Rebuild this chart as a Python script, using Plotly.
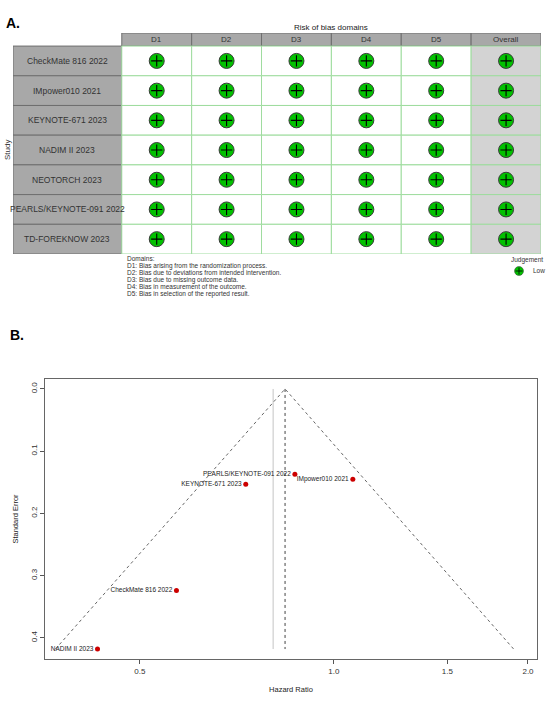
import plotly.graph_objects as go

# ---- panel A: risk of bias table ----
studies = [
    "CheckMate 816 2022",
    "IMpower010 2021",
    "KEYNOTE-671 2023",
    "NADIM II 2023",
    "NEOTORCH 2023",
    "PEARLS/KEYNOTE-091 2022",
    "TD-FOREKNOW 2023",
]
domains = ["D1", "D2", "D3", "D4", "D5", "Overall"]
judgements = [
    ["Low", "Low", "Low", "Low", "Low", "Low"],
    ["Low", "Low", "Low", "Low", "Low", "Low"],
    ["Low", "Low", "Low", "Low", "Low", "Low"],
    ["Low", "Low", "Low", "Low", "Low", "Low"],
    ["Low", "Low", "Low", "Low", "Low", "Low"],
    ["Low", "Low", "Low", "Low", "Low", "Low"],
    ["Low", "Low", "Low", "Low", "Low", "Low"],
]
domain_notes = [
    "Domains:",
    "D1: Bias arising from the randomization process.",
    "D2: Bias due to deviations from intended intervention.",
    "D3: Bias due to missing outcome data.",
    "D4: Bias in measurement of the outcome.",
    "D5: Bias in selection of the reported result.",
]
judgement_levels = ["Low"]
judgement_colors = {"Low": "#02C100"}

# ---- panel B: funnel plot ----
funnel_studies = [
    "NADIM II 2023",
    "CheckMate 816 2022",
    "KEYNOTE-671 2023",
    "PEARLS/KEYNOTE-091 2022",
    "IMpower010 2021",
]
funnel_hr = [0.43, 0.57, 0.73, 0.87, 1.07]
funnel_se = [0.418, 0.324, 0.153, 0.137, 0.145]
pooled_hr = 0.84
random_hr = 0.805
funnel_edge_hr = [0.37, 0.84, 1.90]
funnel_edge_se = [0.418, 0.0, 0.418]
x_ticks = [0.5, 1.0, 1.5, 2.0]
y_ticks = [0.0, 0.1, 0.2, 0.3, 0.4]

W, H = 550, 702
FONT = "Liberation Sans, Arial, sans-serif"


def px(x):
    return x / W


def py(y):
    return 1 - y / H


STUDY_W = 1.557   # study column width in domain-column units
HEAD_H = 0.44     # header height in row units

fig = go.Figure()
shapes = []

# study label cells
for r, s in enumerate(studies):
    shapes.append(dict(type="rect", xref="x2", yref="y2", x0=-STUDY_W, x1=0, y0=r, y1=r + 1,
                       fillcolor="#a8a8a8", line=dict(color="#6f6f6f", width=1), layer="below"))
# header cells
for c, d in enumerate(domains):
    shapes.append(dict(type="rect", xref="x2", yref="y2", x0=c, x1=c + 1, y0=-HEAD_H, y1=0,
                       fillcolor="#a8a8a8", line=dict(color="#6f6f6f", width=1), layer="below"))
# body cells
for r in range(len(studies)):
    for c, d in enumerate(domains):
        fill = "#d3d3d3" if d == "Overall" else "white"
        shapes.append(dict(type="rect", xref="x2", yref="y2", x0=c, x1=c + 1, y0=r, y1=r + 1,
                           fillcolor=fill, line=dict(color="#9edc9e", width=1), layer="below"))

xs, ys, cols = [], [], []
for r, row in enumerate(judgements):
    for c, j in enumerate(row):
        xs.append(c + 0.5)
        ys.append(r + 0.5)
        cols.append(judgement_colors[j])

fig.add_trace(go.Scatter(
    x=xs, y=ys, xaxis="x2", yaxis="y2", mode="markers", showlegend=False, hoverinfo="skip",
    marker=dict(size=15, color=cols, line=dict(color="#3a3a3a", width=1)),
))
fig.add_trace(go.Scatter(
    x=xs, y=ys, xaxis="x2", yaxis="y2", mode="markers", showlegend=False, hoverinfo="skip",
    marker=dict(size=8, symbol="cross-thin", line=dict(color="black", width=1.1)),
))

# judgement key: its own tiny category subplot
fig.add_trace(go.Scatter(
    x=judgement_levels, y=judgement_levels, xaxis="x3", yaxis="y3", mode="markers",
    showlegend=False, hoverinfo="skip", cliponaxis=False,
    marker=dict(size=9, color=[judgement_colors[j] for j in judgement_levels],
                line=dict(color="#3a3a3a", width=0.5)),
))
fig.add_trace(go.Scatter(
    x=judgement_levels, y=judgement_levels, xaxis="x3", yaxis="y3", mode="markers",
    showlegend=False, hoverinfo="skip", cliponaxis=False,
    marker=dict(size=5, symbol="cross-thin", line=dict(color="black", width=0.8)),
))

annotations = []
for r, s in enumerate(studies):
    annotations.append(dict(x=-STUDY_W / 2, y=r + 0.5, xref="x2", yref="y2", text=s,
                            showarrow=False, font=dict(size=8.5, color="#333")))
for c, d in enumerate(domains):
    annotations.append(dict(x=c + 0.5, y=-HEAD_H / 2, xref="x2", yref="y2", text=d,
                            showarrow=False, font=dict(size=8, color="#333")))
annotations.append(dict(x=len(domains) / 2, y=-HEAD_H, xref="x2", yref="y2",
                        text="Risk of bias domains", showarrow=False, yanchor="bottom",
                        yshift=-1, font=dict(size=8, color="#222")))
annotations.append(dict(x=px(7), y=len(studies) / 2, xref="paper", yref="y2", text="Study",
                        textangle=-90, showarrow=False, xanchor="center",
                        font=dict(size=8, color="#333")))
for i, line in enumerate(domain_notes):
    annotations.append(dict(x=px(125), y=py(259 + 7 * i), xref="paper", yref="paper",
                            text=line, showarrow=False, xanchor="left", yanchor="middle",
                            font=dict(size=6.5, color="#333")))
annotations.append(dict(x=px(527), y=py(260), xref="paper", yref="paper", text="Judgement",
                        showarrow=False, xanchor="center", yanchor="middle",
                        font=dict(size=6.5, color="#333")))
for k, j in enumerate(judgement_levels):
    annotations.append(dict(x=k, y=k, xref="x3", yref="y3", text=j, showarrow=False,
                            xanchor="left", xshift=12, font=dict(size=6.5, color="#333")))
annotations.append(dict(x=px(4), y=py(13), xref="paper", yref="paper", text="<b>A.</b>",
                        showarrow=False, xanchor="left", font=dict(size=14, color="black")))
annotations.append(dict(x=px(8), y=py(335), xref="paper", yref="paper", text="<b>B.</b>",
                        showarrow=False, xanchor="left", font=dict(size=14, color="black")))

# ---- funnel traces ----
fig.add_trace(go.Scatter(
    x=[random_hr, random_hr], y=[0, max(funnel_se)], mode="lines", showlegend=False,
    line=dict(color="#c4c4c4", width=1), hoverinfo="skip",
))
fig.add_trace(go.Scatter(
    x=[pooled_hr, pooled_hr], y=[0, max(funnel_se)], mode="lines", showlegend=False,
    line=dict(color="#444", width=1, dash="dot"), hoverinfo="skip",
))
fig.add_trace(go.Scatter(
    x=funnel_edge_hr, y=funnel_edge_se, mode="lines", showlegend=False,
    line=dict(color="#666", width=1, dash="dot"), hoverinfo="skip",
))
fig.add_trace(go.Scatter(
    x=funnel_hr, y=funnel_se, mode="markers+text", text=funnel_studies,
    textposition="middle left", showlegend=False, cliponaxis=False,
    textfont=dict(size=6.5, color="#222"),
    marker=dict(size=5, color="#cc0000"),
))

fig.update_layout(
    width=W, height=H, autosize=False, showlegend=False,
    margin=dict(l=0, r=0, t=0, b=0),
    paper_bgcolor="white", plot_bgcolor="white",
    font=dict(family=FONT, color="#222"),
    shapes=shapes,
    annotations=annotations,
    xaxis=dict(
        domain=[px(45), px(537)], anchor="y", type="log",
        range=[-0.448, 0.315],
        tickvals=x_ticks, ticktext=[f"{v:.1f}" for v in x_ticks],
        ticks="outside", ticklen=4, tickcolor="#555", tickfont=dict(size=8, color="#333"),
        showline=True, mirror=True, linecolor="#666", linewidth=1,
        showgrid=False, zeroline=False,
        title=dict(text="Hazard Ratio", font=dict(size=7.5, color="#222"), standoff=12),
    ),
    yaxis=dict(
        domain=[py(659), py(379)], anchor="x",
        range=[0.434, -0.016],
        tickvals=y_ticks, ticktext=[f"{v:.1f}" for v in y_ticks], tickangle=-90,
        ticks="outside", ticklen=4, tickcolor="#555", tickfont=dict(size=8, color="#333"),
        showline=True, mirror=True, linecolor="#666", linewidth=1,
        showgrid=False, zeroline=False,
        title=dict(text="Standard Error", font=dict(size=7.5, color="#222"), standoff=10),
    ),
    xaxis2=dict(domain=[px(13), px(541)], anchor="y2", range=[-STUDY_W, len(domains)],
                visible=False, fixedrange=True),
    yaxis2=dict(domain=[py(254), py(33)], anchor="x2", range=[len(studies), -HEAD_H],
                visible=False, fixedrange=True),
    xaxis3=dict(domain=[px(510), px(528)], anchor="y3", type="category",
                range=[-0.5, 0.5], visible=False, fixedrange=True),
    yaxis3=dict(domain=[py(280), py(262)], anchor="x3", type="category",
                range=[-0.5, 0.5], visible=False, fixedrange=True),
)

# page margin off so the 550x702 figure fills the window exactly
fig.write_html("out.html", config={"displayModeBar": False},
               post_script="document.body.style.margin = '0';")
